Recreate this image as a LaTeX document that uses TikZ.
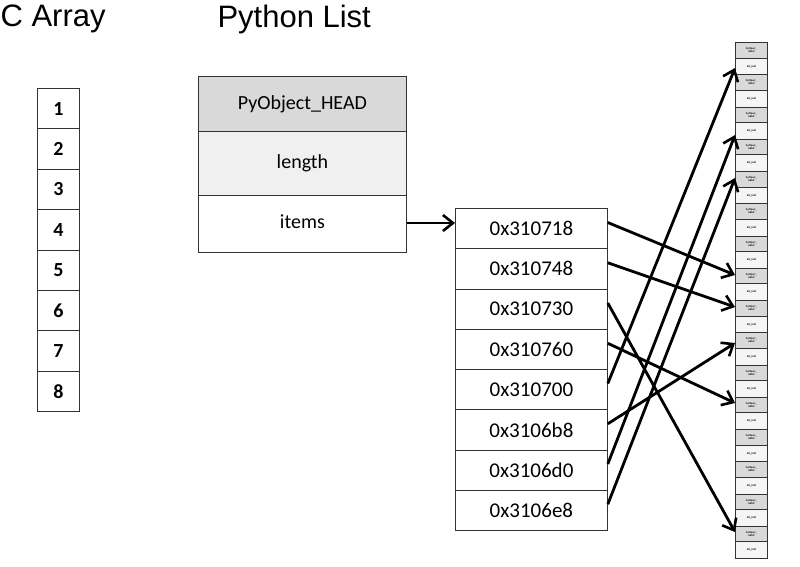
\documentclass[tikz,border=0pt]{standalone}
\usetikzlibrary{arrows.meta}
\usepackage{fontspec}
\setmainfont{Carlito}
\newfontfamily\hel{Liberation Sans}
\begin{document}
\begin{tikzpicture}[x=1pt,y=-1pt,
  cell/.style={draw=black!80,line width=0.8pt,inner sep=0pt,anchor=north west},
  arr/.style={-{Straight Barb[length=10pt,width=16pt,line width=2.6pt]},line width=2.8pt},
  title/.style={font=\hel\fontsize{31}{34}\selectfont,anchor=west}]
\useasboundingbox (0,0) rectangle (800,566);
\node[title] (tc) at (-3,19) {C Array};
\node[title] (tp) at (214,19) {Python List};
% C array
\foreach \i in {1,...,8}{
  \node[cell,minimum width=42pt,minimum height=40.4pt,font=\fontsize{20}{22}\selectfont\bfseries] (c\i) at (37,{88+40.4*(\i-1)}) {\i};
}
% Python struct
\node[cell,fill=black!15,minimum width=208pt,minimum height=55pt,font=\fontsize{20}{22}\selectfont] (h) at (198,76) {PyObject\_HEAD};
\node[cell,fill=black!6,minimum width=208pt,minimum height=64pt,font=\fontsize{20}{22}\selectfont] (l) at (198,131) {length};
\node[cell,fill=white,minimum width=208pt,minimum height=57pt,font=\fontsize{20}{22}\selectfont] (it) at (198,195) {items\strut};
% address list
\foreach \a [count=\i] in {0x310718,0x310748,0x310730,0x310760,0x310700,0x3106b8,0x3106d0,0x3106e8}{
  \node[cell,minimum width=152pt,minimum height=40.25pt,font=\fontsize{21}{23}\selectfont] (a\i) at (455,{208+40.25*(\i-1)}) {\a};
}
\draw[arr] (it.east |- 0,223) -- (a1.west |- 0,223);
% object column
\foreach \j in {0,...,15}{
  \node[cell,fill=black!15,minimum width=32pt,minimum height=15.5pt,align=center,font=\fontsize{2.6}{3}\selectfont\bfseries] (g\j) at (735,{42+32.25*\j}) {PyObject\_\\HEAD};
  \node[cell,fill=black!4,minimum width=32pt,minimum height=16.75pt,font=\fontsize{3}{3}\selectfont\bfseries] (w\j) at (735,{57.5+32.25*\j}) {ob\_ival};
}
\coordinate (t1) at (735,275);
\coordinate (t2) at (735,307);
\coordinate (t3) at (735,532);
\coordinate (t4) at (735,403);
\coordinate (t5) at (735,68);
\coordinate (t6) at (735,343);
\coordinate (t7) at (735,135);
\coordinate (t8) at (735,178);
\foreach \i in {1,...,8}{
  \draw[arr] ([yshift=6pt]a\i.east) -- (t\i);
}
\end{tikzpicture}
\end{document}
